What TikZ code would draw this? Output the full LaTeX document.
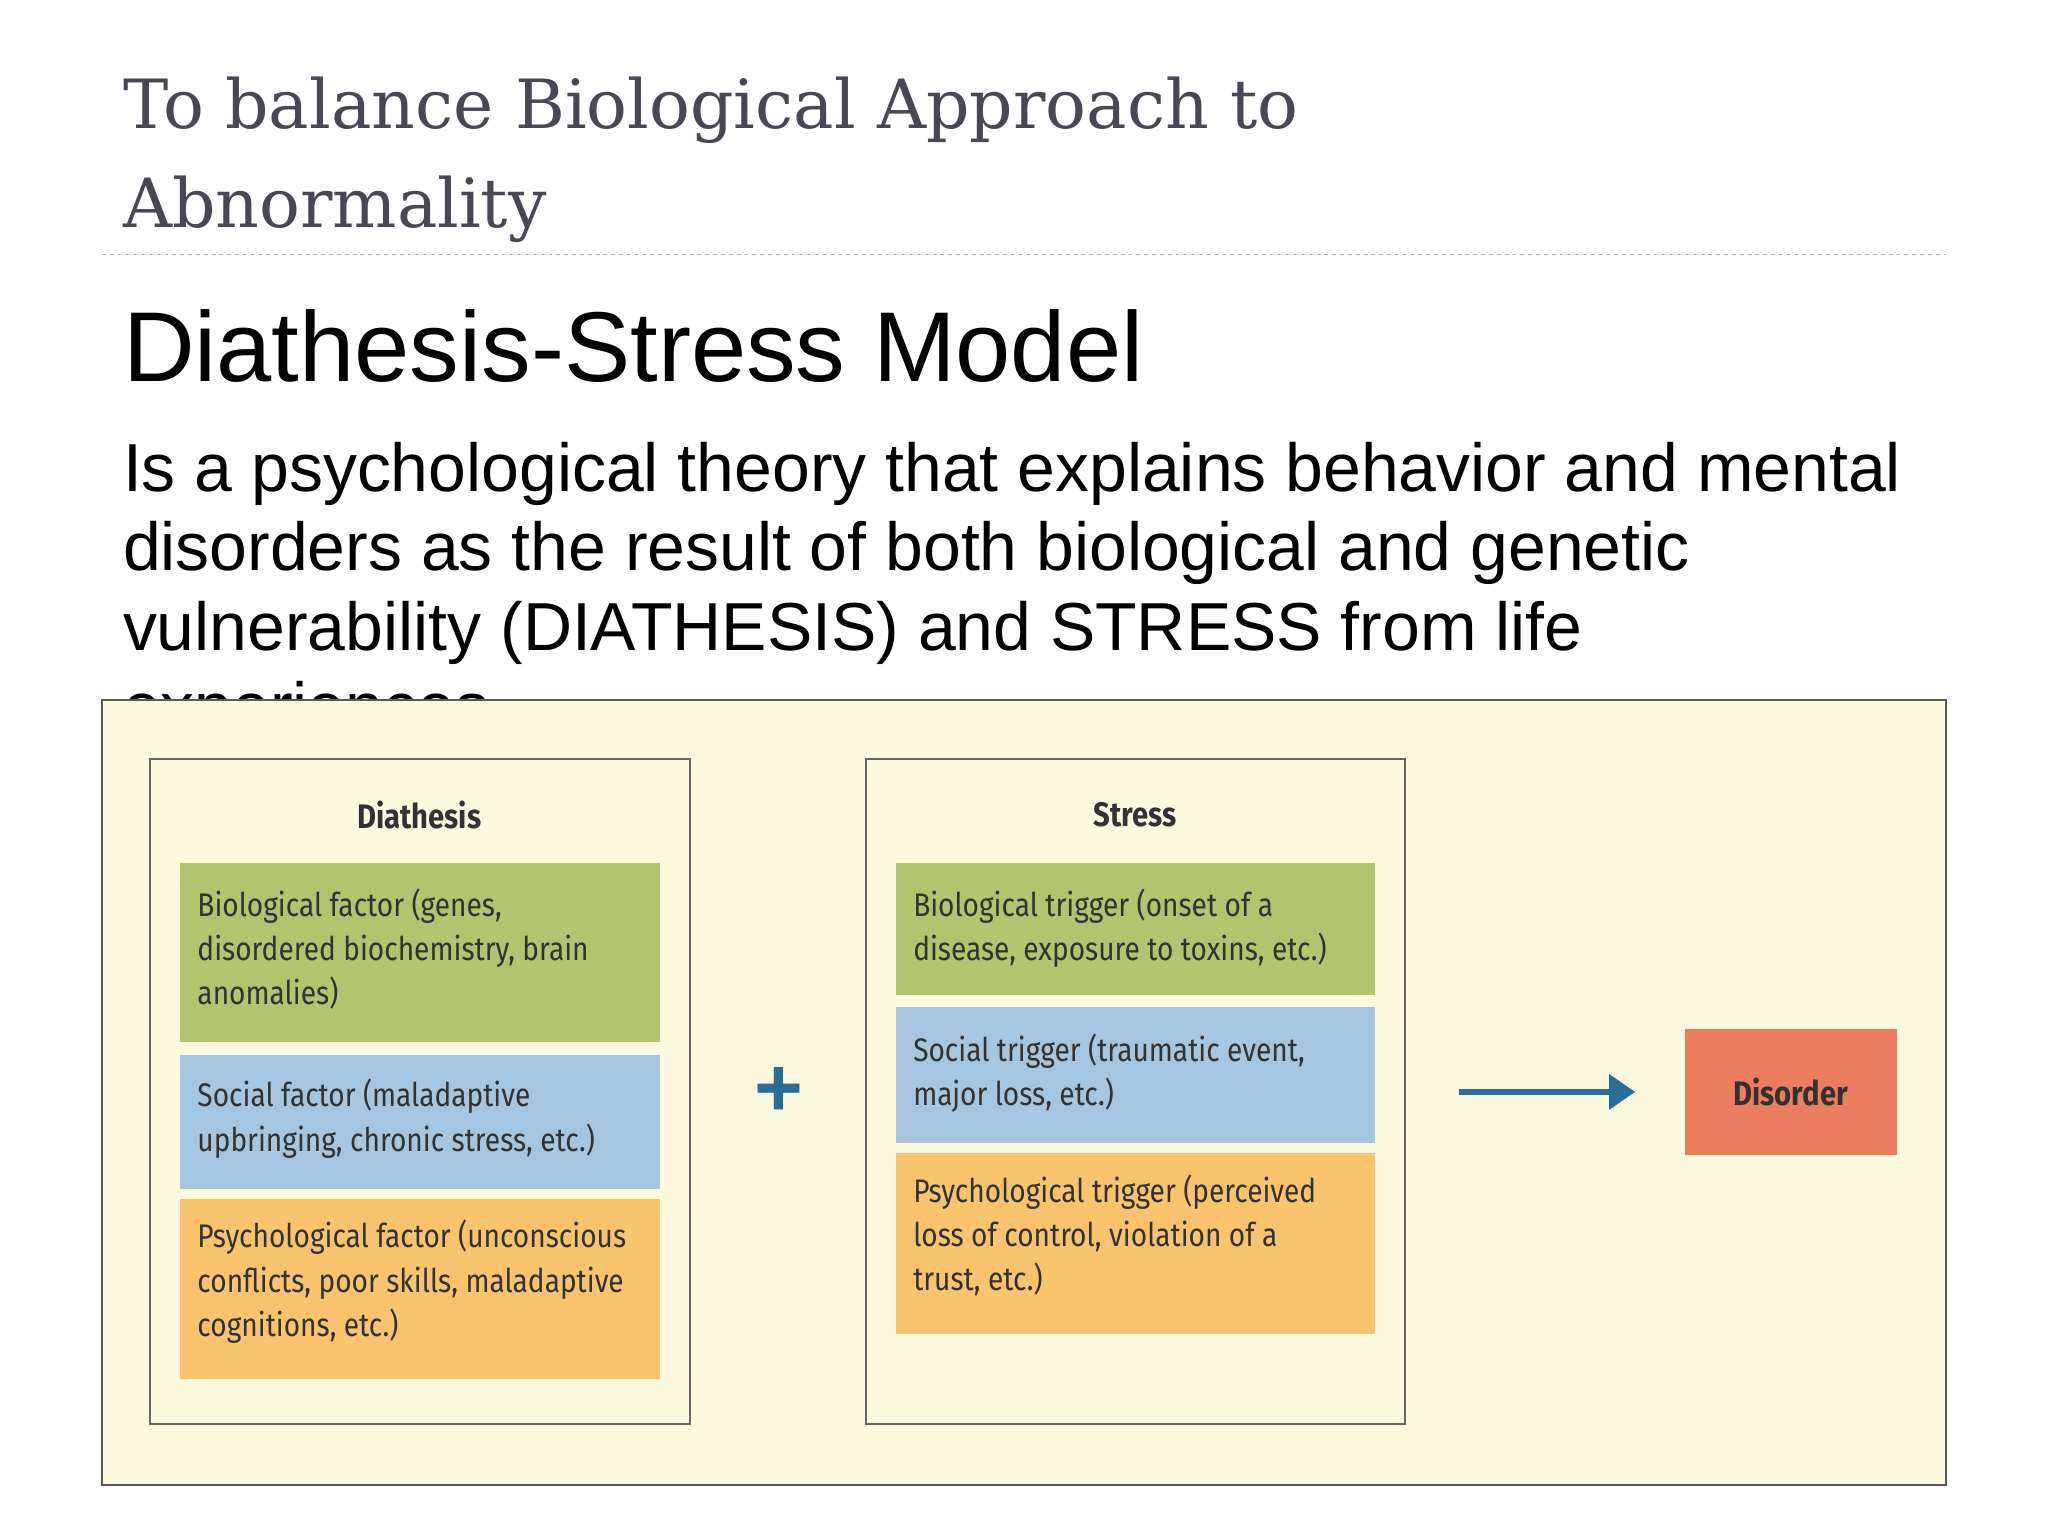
\documentclass[tikz,border=0pt]{standalone}
\usepackage{fontspec}
\usetikzlibrary{arrows.meta}
\setmainfont{Liberation Sans}
\newfontfamily\titlefont{DejaVu Serif}
\newfontfamily\condfont[FakeStretch=0.86]{Fira Sans}
\definecolor{ttl}{RGB}{72,72,84}
\definecolor{panel}{RGB}{252,250,222}
\definecolor{gr}{RGB}{178,196,110}
\definecolor{bl}{RGB}{165,198,222}
\definecolor{org}{RGB}{250,196,110}
\definecolor{dis}{RGB}{236,125,95}
\definecolor{arr}{RGB}{40,110,150}
\definecolor{txt}{RGB}{50,50,50}
\begin{document}
\begin{tikzpicture}[x=1pt,y=-1pt,
  cell/.style={anchor=north west,align=left,inner sep=0pt,font=\condfont\fontsize{25}{34}\selectfont,text=txt},
  outer/.style={draw=gray!80!black,line width=1.5pt}]
\useasboundingbox (0,0) rectangle (1568,1176);
\fill[white] (0,0) rectangle (1568,1176);
\node[anchor=base west,inner sep=0,text=ttl,font=\titlefont\fontsize{52}{76}\selectfont] (t1) at (94,98) {To balance Biological Approach to};
\node[anchor=base west,inner sep=0,text=ttl,font=\titlefont\fontsize{52}{76}\selectfont] (t2) at (94,174) {Abnormality};
\draw[gray!60,dashed,line width=1pt] (78,195) -- (1490,195);
\node[anchor=base west,inner sep=0,font=\fontsize{76}{80}\selectfont] (h) at (94,292) {Diathesis-Stress Model};
\foreach \t/\y in {{Is a psychological theory that explains behavior and mental}/376,{disorders as the result of both biological and genetic}/437,{vulnerability (DIATHESIS) and STRESS from life}/498,{experiences}/559}
  \node[anchor=base west,inner sep=0,font=\fontsize{52}{56}\selectfont] at (94,\y) {\t};
% panel
\filldraw[fill=panel,draw=gray!70!black,line width=1.2pt] (78,536) rectangle (1490,1137);
\draw[outer] (115,581) rectangle (528,1090);
\draw[outer] (663,581) rectangle (1076,1090);
\node[font=\condfont\bfseries\fontsize{26}{30}\selectfont,text=txt] (dh) at (321,624) {Diathesis};
\node[font=\condfont\bfseries\fontsize{26}{30}\selectfont,text=txt] (sh) at (869,624) {Stress};
\fill[gr] (138,661) rectangle (505,798);
\fill[bl] (138,808) rectangle (505,910);
\fill[org] (138,918) rectangle (505,1056);
\fill[gr] (686,661) rectangle (1053,762);
\fill[bl] (686,771) rectangle (1053,875);
\fill[org] (686,883) rectangle (1053,1021);
\node[cell] (d1) at (151,680) {Biological factor (genes,\\disordered biochemistry, brain\\anomalies)};
\node[cell] (d2) at (151,826) {Social factor (maladaptive\\upbringing, chronic stress, etc.)};
\node[cell] (d3) at (151,934) {Psychological factor (unconscious\\conflicts, poor skills, maladaptive\\cognitions, etc.)};
\node[cell] (s1) at (699,680) {Biological trigger (onset of a\\disease, exposure to toxins, etc.)};
\node[cell] (s2) at (699,791) {Social trigger (traumatic event,\\major loss, etc.)};
\node[cell] (s3) at (699,899) {Psychological trigger (perceived\\loss of control, violation of a\\trust, etc.)};
\node[text=arr,font=\bfseries\fontsize{64}{64}\selectfont] (plus) at (596,836) {+};
\fill[dis] (1290,788) rectangle (1452,884);
\node[font=\condfont\bfseries\fontsize{26}{30}\selectfont,text=txt] (dis) at (1371,836) {Disorder};
\coordinate (a1) at (1117,836);
\coordinate (a2) at (1252,836);
\draw[arr,line width=5pt,-{Triangle[length=20pt,width=26pt]}] (a1) -- (a2);
\end{tikzpicture}
\end{document}
